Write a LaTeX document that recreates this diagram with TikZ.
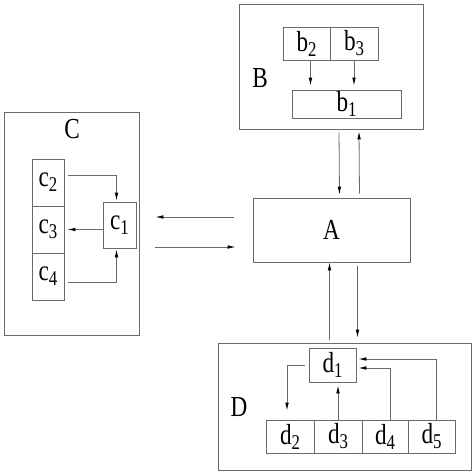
\documentclass[tikz,border=0pt]{standalone}
\usepackage{fontspec}
\usepackage{graphicx}
\setmainfont{Liberation Serif}
\usetikzlibrary{arrows.meta, positioning, calc}
\definecolor{lineGray}{HTML}{6A6A6A}
\newcommand{\nar}[1]{\scalebox{0.8}[1]{#1}}
\newcommand{\sub}[2]{\nar{#1\raisebox{-5pt}{\fontsize{21}{21}\selectfont #2}}}

\begin{document}
\begin{tikzpicture}[
    x=1pt, y=-1pt,
    frame/.style={rectangle, draw=lineGray, line width=0.8pt, inner sep=0pt},
    cell/.style={rectangle, draw=lineGray, line width=0.8pt, inner sep=0pt,
                 minimum width=#1, minimum height=33pt,
                 font=\fontsize{29}{29}\selectfont},
    lbl/.style={inner sep=0pt, font=\fontsize{29}{29}\selectfont},
    arr/.style={draw=lineGray, line width=0.8pt,
                -{Latex[length=8pt, width=3.6pt, color=black]}},
  ]
    \useasboundingbox (0,0) rectangle (474,474);

    % A
    \node[frame, minimum width=157pt, minimum height=64pt,
          font=\fontsize{29}{29}\selectfont] (A) at (331.5,230) {\nar{A}};

    % B
    \node[frame, minimum width=184pt, minimum height=125pt] (boxB) at (331,66.5) {};
    \node[lbl] (labB) at (260,78) {\nar{B}};
    \node[cell=47pt] (b2) at (306.5,43.5) {\sub{b}{2}};
    \node[cell=48pt] (b3) at (354,43.5) {\sub{b}{3}};
    \node[cell=109pt, minimum height=28pt] (b1) at (346.5,104) {\sub{b}{1}};
    \draw[arr, shorten >=4pt] ([xshift=4pt]b2.south) -- ([xshift=4pt]b2.south |- b1.north);
    \draw[arr, shorten >=4pt] (b3.south) -- (b3.south |- b1.north);

    % C
    \node[frame, minimum width=135pt, minimum height=223pt] (boxC) at (71.5,223.5) {};
    \node[lbl] (labC) at (72,129) {\nar{C}};
    \node[cell=32pt, minimum height=47pt] (c2) at (48,182.5) {\sub{c}{2}};
    \node[cell=32pt, minimum height=47pt] (c3) at (48,229.5) {\sub{c}{3}};
    \node[cell=32pt, minimum height=47pt] (c4) at (48,276.5) {\sub{c}{4}};
    \node[cell=33pt, minimum height=46pt] (c1) at (119.5,225) {\sub{c}{1}};
    \draw[arr, shorten >=1pt] ([xshift=4pt, yshift=7pt]c2.east) -| ([xshift=-3pt]c1.north);
    \draw[arr, shorten >=3pt] (c1.west |- c3.east) -- (c3.east);
    \draw[arr, shorten >=1pt] ([xshift=4pt, yshift=-6pt]c4.east) -| ([xshift=-3pt]c1.south);

    % D
    \node[frame, minimum width=253pt, minimum height=127pt] (boxD) at (344.5,406.5) {};
    \node[lbl] (labD) at (239,407) {\nar{D}};
    \node[cell=47pt, minimum height=34pt] (d1) at (332.5,365) {\sub{d}{1}};
    \node[cell=48pt] (d2) at (290,436.5) {\sub{d}{2}};
    \node[cell=48pt] (d3) at (338,436.5) {\sub{d}{3}};
    \node[cell=46pt] (d4) at (385,436.5) {\sub{d}{4}};
    \node[cell=47pt] (d5) at (431.5,436.5) {\sub{d}{5}};
    \draw[arr, shorten >=9pt] ([xshift=-4pt]d1.west) -| ([xshift=-3pt]d2.north);
    \draw[arr, shorten >=3pt] (d3.north) -- (d3.north |- d1.south);
    \draw[arr, shorten >=2pt] ([xshift=5pt]d4.north) |- ([yshift=-3pt]d1.east);
    \draw[arr, shorten >=2pt] ([xshift=5pt]d5.north) |- ([yshift=6pt]d1.east);

    % A <-> B
    \draw[arr, shorten <=3pt, shorten >=3pt] ([xshift=8pt]boxB.south) -- ([xshift=8pt]A.north);
    \draw[arr, shorten <=4pt, shorten >=2pt] ([xshift=28pt]A.north) -- ([xshift=28pt]boxB.south);

    % A <-> C
    \coordinate (ac1) at ([yshift=13pt]A.west);
    \coordinate (ac2) at ([yshift=-17pt]A.west);
    \draw[arr, shorten <=19pt, shorten >=16pt] (ac1) -- (ac1 -| boxC.east);
    \draw[arr, shorten <=16pt, shorten >=17pt] (ac2 -| boxC.east) -- (ac2);

    % A <-> D
    \coordinate (ad1) at ([xshift=-2pt]A.south);
    \coordinate (ad2) at ([xshift=26pt]A.south);
    \draw[arr, shorten <=3pt] (ad1 |- boxD.north) -- (ad1);
    \draw[arr, shorten <=4pt, shorten >=5pt] (ad2) -- (ad2 |- boxD.north);
  \end{tikzpicture}
\end{document}
